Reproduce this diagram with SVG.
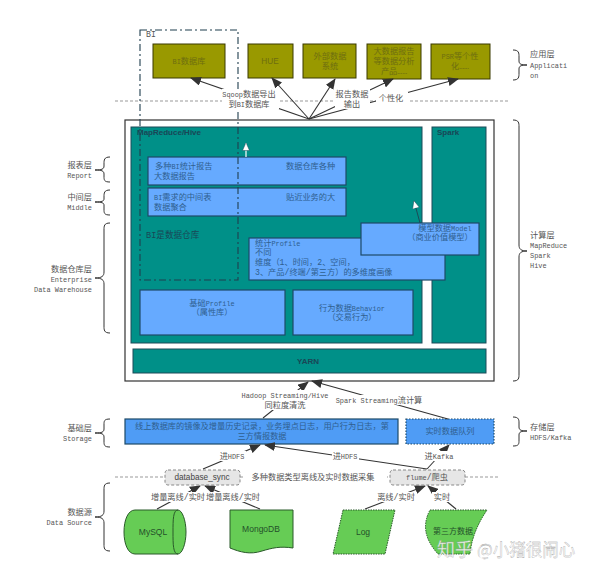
<svg xmlns="http://www.w3.org/2000/svg" width="600" height="574" viewBox="0 0 600 574">
<style>
text{font-family:"Liberation Mono","Noto Sans CJK SC",monospace;font-size:8.2px;fill:#555}
.l{font-size:6.9px}
.m{text-anchor:middle}
.r{text-anchor:end}
.b{fill:#2f5f8f}
.o{fill:#6e6e10}
.s{font-family:"Liberation Sans","Noto Sans CJK SC",sans-serif}
.t{font-family:"Liberation Sans",sans-serif;font-weight:bold;font-size:8px;fill:#1a4656}
.g{font-family:"Liberation Sans","Noto Sans CJK SC",sans-serif;fill:#24502a;font-size:8.5px}
.olive{fill:#999900;stroke:#3a3a00;stroke-width:1}
.blue{fill:#66aaff;stroke:#1d4a68;stroke-width:1.2}
.teal{fill:#009088;stroke:#1d4a58;stroke-width:1}
.green{fill:#66cc55;stroke:#2a5a2a;stroke-width:1}
.gray{fill:#e6e6e6;stroke:#888;stroke-width:1;stroke-dasharray:3 2}
.edge{stroke:#333;stroke-width:1.1;fill:none;marker-end:url(#ah)}
.brace{stroke:#333;stroke-width:1;fill:none}
.div{stroke:#999;stroke-width:1;stroke-dasharray:3 2;fill:none}
.bg{fill:#fff}
</style>
<defs>
<marker id="ah" markerWidth="11" markerHeight="9" refX="10" refY="4.5" orient="auto" markerUnits="userSpaceOnUse"><path d="M0 0L11 4.5L0 9Z" fill="#333"/></marker>
<marker id="wh" markerWidth="8" markerHeight="8" refX="7.5" refY="4" orient="auto" markerUnits="userSpaceOnUse"><path d="M0 .5L8 4L0 7.5Z" fill="#fff" stroke="#1d4a58" stroke-width=".5"/></marker>
</defs>
<rect width="600" height="574" fill="#fff"/>

<g id="dividers">
<path class="div" d="M115 101H510"/>
<path class="div" d="M115 477H500"/>
</g>

<g id="node-compute-frame"><rect x="125" y="120" width="369" height="261" fill="#fff" stroke="#333" stroke-width="1.2"/></g>
<g id="node-mapreduce"><rect class="teal" x="131" y="127" width="291" height="216"/><text class="t" x="137" y="135">MapReduce/Hive</text></g>
<g id="node-spark"><rect class="teal" x="432" y="127" width="54" height="216"/><text class="t" x="437" y="135">Spark</text></g>
<g id="node-yarn"><rect class="teal" x="133" y="349" width="353" height="24"/><text class="t m" x="308" y="364">YARN</text></g>

<g id="node-report"><rect class="blue" x="148" y="157" width="198" height="28"/>
<text class="b" x="155" y="169">多种<tspan class="l">BI</tspan>统计报告</text><text class="b" x="154" y="179">大数据报告</text><text class="b" x="286" y="169">数据仓库各种</text></g>
<g id="node-middle"><rect class="blue" x="148" y="188" width="198" height="28"/>
<text class="b" x="154" y="200"><tspan class="l">BI</tspan>需求的中间表</text><text class="b" x="154" y="210">数据聚合</text><text class="b" x="286" y="200">贴近业务的大</text></g>
<g id="node-stats"><rect class="blue" x="249" y="238" width="196" height="42"/>
<text class="b" x="255" y="246">统计<tspan class="l">Profile</tspan></text><text class="b" x="255" y="255">不同</text><text class="b" x="255" y="265">维度（1、时间，2、空间，</text><text class="b" x="255" y="275">3、产品/终端/第三方）的多维度画像</text></g>
<g id="node-model"><rect class="blue" x="361" y="223" width="118" height="32"/>
<text class="b m" x="445" y="231">模型数据<tspan class="l">Model</tspan></text><text class="b m" x="440" y="240">（商业价值模型）</text></g>
<g id="node-basic"><rect class="blue" x="140" y="290" width="145" height="45"/>
<text class="b m" x="212" y="306">基础<tspan class="l">Profile</tspan></text><text class="b m" x="212" y="315">（属性库）</text></g>
<g id="node-behavior"><rect class="blue" x="293" y="290" width="120" height="45"/>
<text class="b m" x="352" y="311">行为数据<tspan class="l">Behavior</tspan></text><text class="b m" x="352" y="320">（交易行为）</text></g>

<g id="node-bi-frame"><rect x="140" y="30" width="98" height="250" fill="none" stroke="#1f3f4f" stroke-width="1.1" stroke-dasharray="7 3 2 3"/>
<text x="146" y="37">BI</text>
<text x="146" y="238" style="fill:#1a4656;font-size:8.6px">BI是数据仓库</text></g>

<g id="node-bi-db"><rect class="olive" x="153" y="44" width="72" height="34"/><text class="o m" x="189" y="64"><tspan class="l">BI</tspan>数据库</text></g>
<g id="node-hue"><rect class="olive" x="248" y="44" width="45" height="34"/><text class="o m s" x="270" y="64">HUE</text></g>
<g id="node-external"><rect class="olive" x="303" y="44" width="53" height="34"/><text class="o m" x="330" y="59">外部数据</text><text class="o m" x="330" y="69">系统</text></g>
<g id="node-bigdata"><rect class="olive" x="367" y="44" width="54" height="35"/><text class="o m" x="394" y="54">大数据报告</text><text class="o m" x="394" y="64">等数据分析</text><text class="o m" x="394" y="74">产品……</text></g>
<g id="node-psr"><rect class="olive" x="431" y="44" width="59" height="35"/><text class="o m" x="460" y="59"><tspan class="l">PSR</tspan>等个性</text><text class="o m" x="460" y="69">化……</text></g>

<g id="node-storage"><rect x="125" y="419" width="273" height="25" fill="#4f9cf5" stroke="#1d4a68" stroke-width="1.2"/>
<text class="b m" x="262" y="429">线上数据库的镜像及增量历史记录，业务埋点日志，用户行为日志，第</text><text class="b m" x="262" y="439">三方情报数据</text></g>
<g id="node-realtime"><rect x="406" y="419" width="88" height="25" fill="#4f9cf5" stroke="#1d4a68" stroke-width="1.2" stroke-dasharray="1.5 1.5"/><text class="b m" x="450" y="434">实时数据队列</text></g>
<g id="node-dbsync"><rect class="gray" x="165" y="470" width="75" height="15" rx="3"/><text class="m s" x="202" y="480" style="fill:#444">database_sync</text></g>
<g id="node-flume"><rect class="gray" x="390" y="470" width="75" height="15" rx="3"/><text class="m" x="427" y="480"><tspan class="l">flume</tspan>/爬虫</text></g>

<g id="node-mysql"><path class="green" d="M135 510H178C182 510 186 520 186 532C186 544 182 554 178 554H135C128 554 124 544 124 532C124 520 128 510 135 510Z"/><path class="green" d="M178 510C173 510 173 520 173 532C173 544 173 554 178 554" style="fill:none"/><text class="g m" x="153" y="535">MySQL</text></g>
<g id="node-mongodb"><path class="green" d="M230 510H293V548C280 546 272 548 262 551C250 555 240 552 230 548Z"/><text class="g m" x="261" y="532">MongoDB</text></g>
<g id="node-log"><path class="green" d="M343 510H395L385 554H333Z" stroke-dasharray="1.5 1"/><text class="g m" x="363" y="535">Log</text></g>
<g id="node-third"><path class="green" d="M430 510H487Q472 532 470 554H438Q418 532 430 510Z" stroke-dasharray="1.5 1"/><text class="g m" x="453" y="534" style="font-size:8px">第三方数据</text></g>

<g id="connectors">
<path class="edge" d="M309 119L191 78"/>
<path class="edge" d="M309 119L272 78"/>
<path class="edge" d="M309 119L335 79"/>
<path class="edge" d="M309 119L393 79"/>
<path class="edge" d="M309 119L458 79"/>
<path d="M246 157V143" stroke="#fff" stroke-width="1.2" marker-end="url(#wh)"/>
<path d="M420 223L414 201" stroke="#1d4a58" stroke-width="1" marker-end="url(#wh)"/>
<path class="edge" d="M263 418L308 382"/>
<path class="edge" d="M448 419L312 381"/>
<path class="edge" d="M203 469L260 445"/>
<path class="edge" d="M427 469L265 445"/>
<path class="edge" d="M427 469L449 445"/>
<path class="edge" d="M157 509L200 486"/>
<path class="edge" d="M260 509L205 486"/>
<path class="edge" d="M365 509L425 486"/>
<path class="edge" d="M456 509L428 486"/>
<g class="bg">
<rect x="222" y="89" width="57" height="20"/><rect x="335" y="89" width="35" height="20"/><rect x="376" y="92" width="32" height="10"/>
<rect x="240" y="390" width="92" height="20"/><rect x="335" y="395" width="88" height="10"/>
<rect x="219" y="451" width="27" height="10"/><rect x="332" y="451" width="27" height="10"/><rect x="424" y="451" width="30" height="10"/>
<rect x="243" y="472" width="144" height="10"/>
<rect x="152" y="492" width="98" height="10"/><rect x="376" y="492" width="40" height="10"/><rect x="432" y="492" width="20" height="10"/>
</g>
<text class="m" x="249" y="97"><tspan class="l">Sqoop</tspan>数据导出</text><text class="m" x="249" y="107">到<tspan class="l">BI</tspan>数据库</text>
<text class="m" x="352" y="97">报告数据</text><text class="m" x="352" y="107">输出</text>
<text class="m" x="391" y="101">个性化</text>
<text class="m l" x="285" y="398">Hadoop Streaming/Hive</text><text class="m" x="285" y="408">同粒度清洗</text>
<text class="m" x="379" y="403"><tspan class="l">Spark Streaming</tspan>流计算</text>
<text class="m" x="232" y="459">进<tspan class="l">HDFS</tspan></text><text class="m" x="345" y="459">进<tspan class="l">HDFS</tspan></text><text class="m" x="439" y="459">进<tspan class="l">Kafka</tspan></text>
<text class="m" x="313" y="480">多种数据类型离线及实时数据采集</text>
<text class="m" x="178" y="500">增量离线/实时</text><text class="m" x="233" y="500">增量离线/实时</text>
<text class="m" x="396" y="500">离线/实时</text><text class="m" x="442" y="500">实时</text>
</g>

<g id="braces">
<path class="brace" d="M110 157C104 157 104 160 104 164V166C104 169 102 170 95 170C102 170 104 171 104 174V176C104 180 104 182 110 182"/>
<path class="brace" d="M110 190C104 190 104 193 104 197V199C104 201 102 202 95 202C102 202 104 203 104 205V209C104 213 104 215 110 215"/>
<path class="brace" d="M110 223C104 223 104 226 104 230V272C104 276 102 278 95 278C102 278 104 280 104 284V326C104 330 104 333 110 333"/>
<path class="brace" d="M110 419C104 419 104 421 104 425V429C104 432 102 433 95 433C102 433 104 434 104 437V441C104 445 104 447 110 447"/>
<path class="brace" d="M110 483C104 483 104 486 104 490V511C104 515 102 517 95 517C102 517 104 519 104 523V544C104 548 104 551 110 551"/>
<path class="brace" d="M513 50C519 50 519 53 519 57V61C519 64 521 65 527 65C521 65 519 66 519 69V73C519 77 519 80 513 80"/>
<path class="brace" d="M513 120C519 120 519 123 519 127V245C519 249 521 251 527 251C521 251 519 253 519 257V374C519 378 519 381 513 381"/>
<path class="brace" d="M513 417C519 417 519 420 519 423V427C519 430 521 431 527 431C521 431 519 432 519 435V440C519 444 519 446 513 446"/>
</g>

<g id="layer-labels">
<text class="r" x="92" y="168">报表层</text><text class="r l" x="92" y="178">Report</text>
<text class="r" x="92" y="200">中间层</text><text class="r l" x="92" y="210">Middle</text>
<text class="r" x="92" y="272">数据仓库层</text><text class="r l" x="92" y="282">Enterprise</text><text class="r l" x="92" y="292">Data Warehouse</text>
<text class="r" x="92" y="431">基础层</text><text class="r l" x="92" y="441">Storage</text>
<text class="r" x="92" y="515">数据源</text><text class="r l" x="92" y="525">Data Source</text>
<text x="530" y="57">应用层</text><text class="l" x="530" y="68">Applicati</text><text class="l" x="530" y="78">on</text>
<text x="530" y="238">计算层</text><text class="l" x="530" y="248">MapReduce</text><text class="l" x="530" y="258">Spark</text><text class="l" x="530" y="268">Hive</text>
<text x="530" y="430">存储层</text><text class="l" x="530" y="440">HDFS/Kafka</text>
</g>

<g id="watermark"><text x="437" y="556" style="font-family:'Noto Sans CJK SC',sans-serif;font-size:18px;fill:#fff;fill-opacity:.85" stroke="#999" stroke-width=".3">知乎 <tspan font-size="16.5">@小猪很闹心</tspan></text></g>
</svg>
